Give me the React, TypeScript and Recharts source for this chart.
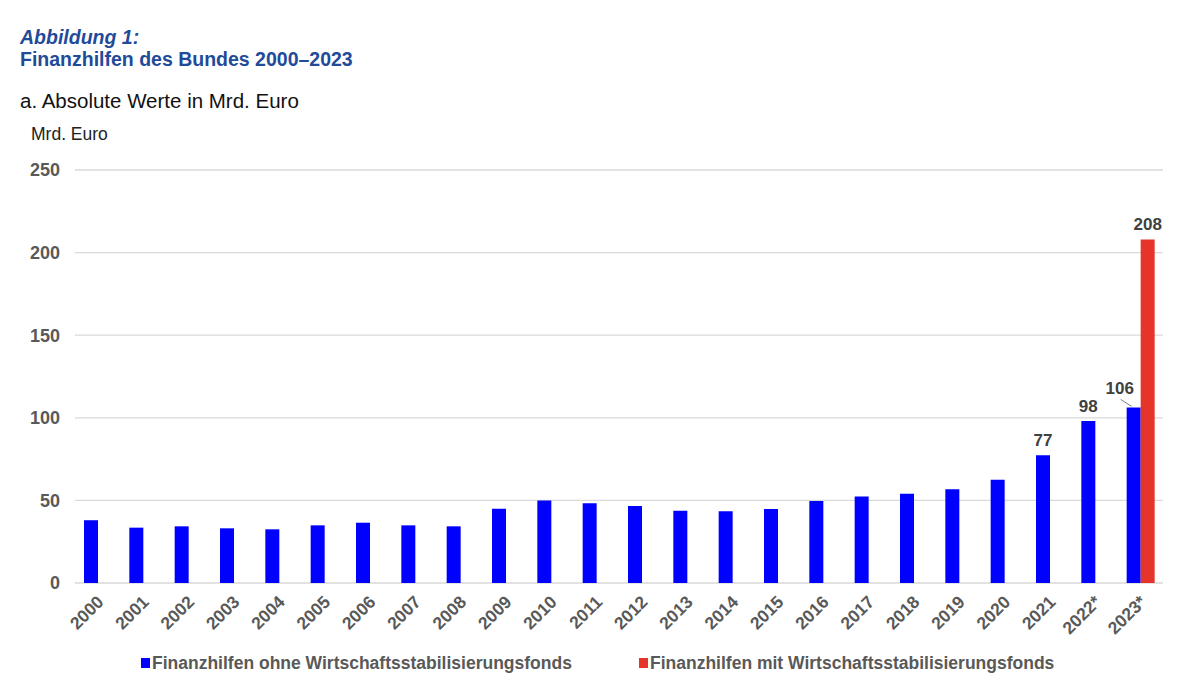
import React from 'react';
import { BarChart, Bar, XAxis, YAxis, CartesianGrid, LabelList, Legend } from 'recharts';

const FONT = '"Liberation Sans", Arial, Helvetica, sans-serif';

const years = [
  '2000', '2001', '2002', '2003', '2004', '2005', '2006', '2007', '2008', '2009', '2010', '2011',
  '2012', '2013', '2014', '2015', '2016', '2017', '2018', '2019', '2020', '2021', '2022*', '2023*',
];

// Mrd. Euro
const ohneWsf = [
  38, 33.5, 34.3, 33.1, 32.5, 34.9, 36.5, 34.9, 34.3, 45, 50, 48.2,
  46.6, 43.8, 43.4, 44.8, 49.6, 52.3, 54, 56.8, 62.5, 77.3, 98, 106.3,
];
const mitWsf = [
  null, null, null, null, null, null, null, null, null, null, null, null,
  null, null, null, null, null, null, null, null, null, null, null, 208,
];

const seriesNames = [
  'Finanzhilfen ohne Wirtschaftsstabilisierungsfonds',
  'Finanzhilfen mit Wirtschaftsstabilisierungsfonds',
];
const labelledYears = ['2021', '2022*'];
const calloutYears = ['2023*'];
const yTicks = [0, 50, 100, 150, 200, 250];

const data = years.map((year, i) => ({
  year,
  ohne: ohneWsf[i],
  mit: mitWsf[i],
  ohneLabel: labelledYears.includes(year) ? Math.round(ohneWsf[i]) : null,
  ohneCallout: calloutYears.includes(year) ? Math.round(ohneWsf[i]) : null,
}));

function YearTick({ x, y, payload }: any) {
  return (
    <g transform={`translate(${x + 14},${y + 20})`}>
      <text
        textAnchor="end"
        transform="rotate(-45)"
        fill="#595959"
        fontSize={17.5}
        fontWeight="bold"
        fontFamily={FONT}
      >
        {payload.value}
      </text>
    </g>
  );
}

const renderCallout = (props: any) => {
  const vb = props.viewBox ?? props;
  const { x, y, width } = vb;
  if (props.value == null) return null;
  const cx = x + width / 2;
  return (
    <g>
      <line x1={cx - 13} y1={y - 8} x2={cx - 2} y2={y - 1} stroke="#808080" strokeWidth={1} />
      <text
        x={cx - 14}
        y={y - 13}
        textAnchor="middle"
        fill="#404040"
        fontSize={17}
        fontWeight="bold"
        fontFamily={FONT}
      >
        {props.value}
      </text>
    </g>
  );
};

const renderLegend = (props: any) => {
  const items = [...(props.payload ?? [])].sort(
    (a: any, b: any) => seriesNames.indexOf(a.value) - seriesNames.indexOf(b.value),
  );
  return (
    <div style={{ display: 'flex', alignItems: 'center', height: 20, paddingLeft: 141, fontFamily: FONT }}>
      {items.map((item: any, i: number) => (
        <div
          key={item.value}
          style={{ display: 'flex', alignItems: 'center', width: i === 0 ? 498 : undefined }}
        >
          <span style={{ display: 'inline-block', width: 9, height: 10, background: item.color, marginRight: 2 }} />
          <span style={{ fontSize: 17.5, fontWeight: 'bold', color: '#595959', whiteSpace: 'nowrap' }}>
            {item.value}
          </span>
        </div>
      ))}
    </div>
  );
};

export default function App() {
  return (
    <div style={{ position: 'absolute', left: 0, top: 0, width: 1200, height: 685, background: '#fff', fontFamily: FONT }}>
      <BarChart
        width={1200}
        height={685}
        data={data}
        margin={{ top: 170, right: 37, bottom: 12, left: 15 }}
        barGap={0}
      >
        <CartesianGrid xAxisId="main" vertical={false} stroke="#d9d9d9" strokeWidth={1.3} />
        <XAxis
          xAxisId="main"
          dataKey="year"
          interval={0}
          tick={<YearTick />}
          tickLine={false}
          axisLine={false}
          tickSize={0}
          tickMargin={0}
          height={70}
          padding={{ left: -7, right: 7 }}
        />
        <XAxis xAxisId="shifted" dataKey="year" hide padding={{ left: 7, right: -7 }} />
        <YAxis
          domain={[0, 250]}
          ticks={yTicks}
          axisLine={false}
          tickLine={false}
          tickSize={0}
          tickMargin={15}
          width={60}
          tick={{ fill: '#595959', fontSize: 18, fontWeight: 'bold', fontFamily: FONT }}
        />
        <Legend
          verticalAlign="bottom"
          content={renderLegend}
          wrapperStyle={{ left: 0, width: 1200 }}
        />
        <Bar
          xAxisId="main"
          dataKey="ohne"
          name={seriesNames[0]}
          fill="#0000FF"
          barSize={14}
          isAnimationActive={false}
        >
          <LabelList
            dataKey="ohneLabel"
            position="top"
            offset={9}
            fill="#404040"
            fontSize={17}
            fontWeight="bold"
            fontFamily={FONT}
          />
          <LabelList dataKey="ohneCallout" content={renderCallout} />
        </Bar>
        <Bar
          xAxisId="shifted"
          dataKey="mit"
          name={seriesNames[1]}
          fill="#E5342A"
          barSize={14}
          isAnimationActive={false}
        >
          <LabelList
            dataKey="mit"
            position="top"
            offset={9}
            fill="#404040"
            fontSize={17}
            fontWeight="bold"
            fontFamily={FONT}
          />
        </Bar>
      </BarChart>
      <div style={{ position: 'absolute', left: 20, top: 27, fontSize: 19.5, lineHeight: '20px', fontWeight: 'bold', fontStyle: 'italic', color: '#1F4B99' }}>
        Abbildung 1:
      </div>
      <div style={{ position: 'absolute', left: 20, top: 49, fontSize: 19.5, lineHeight: '20px', fontWeight: 'bold', color: '#1F4B99', whiteSpace: 'nowrap' }}>
        Finanzhilfen des Bundes 2000–2023
      </div>
      <div style={{ position: 'absolute', left: 20, top: 91, fontSize: 20.5, lineHeight: '20px', color: '#111', whiteSpace: 'nowrap' }}>
        a. Absolute Werte in Mrd. Euro
      </div>
      <div style={{ position: 'absolute', left: 31, top: 126, fontSize: 17.5, lineHeight: '17px', color: '#222', whiteSpace: 'nowrap' }}>
        Mrd. Euro
      </div>
    </div>
  );
}
